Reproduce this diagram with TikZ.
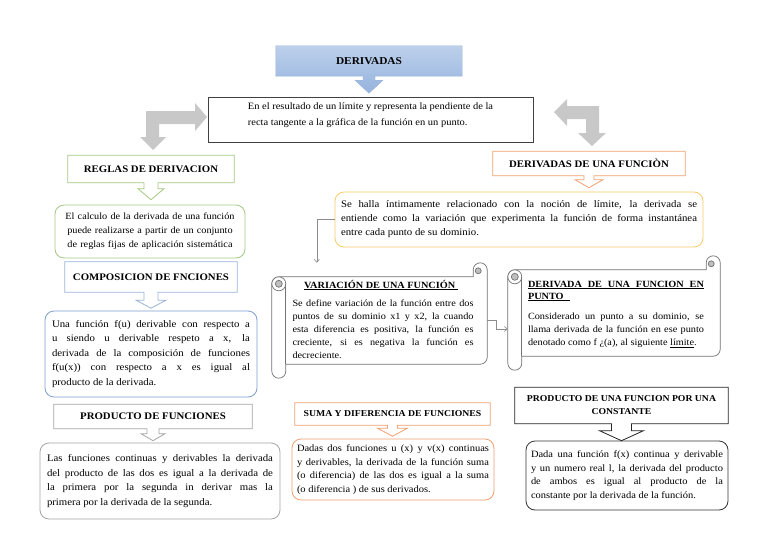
\documentclass[tikz,border=0pt]{standalone}
\usepackage{fontspec}
\setmainfont{Liberation Serif}[FakeStretch=1.08]
\usetikzlibrary{calc}
\usetikzlibrary{backgrounds}
\usetikzlibrary{arrows.meta}

\definecolor{azulclaro}{HTML}{BDD0EB}
\definecolor{azuloscuro}{HTML}{95B3DE}
\definecolor{azulborde}{HTML}{9AB4D9}
\definecolor{azulcaja}{HTML}{7F9FCF}
\definecolor{verde}{HTML}{A5C882}
\definecolor{naranja}{HTML}{F0A070}
\definecolor{amarillo}{HTML}{F9CB6B}
\definecolor{grisflecha}{HTML}{C8C8C8}

\tikzset{
  titulo/.style={font=\fontsize{10}{12}\selectfont\bfseries, inner sep=0pt, align=center},
  caja/.style={draw, rounded corners=9pt, inner sep=0pt, align=justify, line width=0.8pt,
    font=\fontsize{10}{14.5}\selectfont},
  conector/.style={draw=black!45, line width=0.6pt, -{Straight Barb[length=3pt,width=5pt]}},
  rollo/.style={draw=black!55, line width=0.7pt, fill=white},
  flechagris/.style={fill=grisflecha},
}

% #1 node, #2 style, #3 half stem, #4 stem length, #5 half head, #6 head length
\newcommand{\flechacaja}[6]{%
  \begin{scope}[on background layer]
  \draw[#2] (#1.north west) -- (#1.north east) -- (#1.south east)
    -- ($(#1.south)+(#3,0)$) -- ++(0,#4) -- ++({#5-#3},0)
    -- ($(#1.south)+(0,{#4+#6})$) -- ($(#1.south)+({-#5},#4)$)
    -- ++({#5-#3},0) -- ($(#1.south)+({-#3},0)$) -- (#1.south west) -- cycle;
  \end{scope}}

% horizontal scroll round an empty node
\newcommand{\pergamino}[1]{%
  \draw[rollo] ($(#1.north west)+(0,21)$) arc[start angle=180, end angle=90, radius=7pt]
    -- ($(#1.north east)+(-14,14)$) -- ($(#1.north east)+(-14,7)$)
    arc[start angle=180, end angle=0, radius=7pt]
    -- ($(#1.south east)+(0,-21)$) arc[start angle=0, end angle=-90, radius=7pt]
    -- ($(#1.south west)+(14,-14)$) -- ($(#1.south west)+(14,-7)$)
    arc[start angle=0, end angle=-180, radius=7pt] -- cycle;
  \filldraw[rollo, fill=black!25] ($(#1.north east)+(-9,8)$) circle (3pt);
  \draw[rollo] ($(#1.north west)+(7,21)$) circle (7pt);
  \filldraw[rollo, fill=black!25] ($(#1.north west)+(7,21)$) circle (3.5pt);
  \draw[rollo] ($(#1.north west)+(14,21)$) -- ($(#1.south west)+(14,-14)$);}

\begin{document}
\begin{tikzpicture}[x=1pt, y=-1pt]
  \begin{scope}[on background layer]
    \fill[white] (0,0) rectangle (768,543);
  \end{scope}
  \useasboundingbox (0,0) rectangle (768,543);

  % titulo y definicion
  \node[titulo, font=\fontsize{10.5}{12}\selectfont\bfseries, minimum width=186pt, minimum height=30pt]
    (derivadas) at (369,61) {DERIVADAS};
  \flechacaja{derivadas}{draw=azulborde, top color=azulclaro, bottom color=azuloscuro}{6}{4}{14}{13}
  \node[caja, rounded corners=0pt, draw=black!75, align=left, font=\fontsize{9.7}{16}\selectfont,
    minimum width=325pt, minimum height=45pt] (definicion) at (370.5,119.5)
    {En el resultado de un límite y representa la pendiente de la\\
     recta tangente a la gráfica de la función en un punto.\\[-5pt]};

  % flechas grises
  \fill[flechagris] (207,117) -- (195,103) -- (195,111) -- (146,111) -- (146,137)
    -- (140,137) -- (153,150) -- (166,137) -- (159,137) -- (159,124) -- (195,124)
    -- (195,131) -- cycle;
  \fill[flechagris] (554,112) -- (567,99) -- (567,106) -- (599,106) -- (599,133)
    -- (606,133) -- (592,146) -- (578,133) -- (586,133) -- (586,119) -- (567,119)
    -- (567,126) -- cycle;

  % columna izquierda
  \node[titulo, minimum width=166pt, minimum height=27pt] (reglas) at (151,169) {REGLAS DE DERIVACION};
  \flechacaja{reglas}{draw=verde, line width=0.8pt}{7}{6}{13}{11}
  \node[caja, draw=verde, align=center, font=\fontsize{9.5}{14}\selectfont, text width=184pt,
    minimum width=190pt, minimum height=53pt] (reglastxt) at (150,231.5)
    {El calculo de la derivada de una función\\puede realizarse a partir de un conjunto\\
     de reglas fijas de aplicación sistemática};

  \node[titulo, minimum width=172pt, minimum height=30pt] (composicion) at (151,277) {COMPOSICION DE FNCIONES};
  \flechacaja{composicion}{draw=azulborde, line width=0.8pt}{7}{8}{15}{8}
  \node[caja, draw=azulcaja, text width=198pt, minimum width=212pt, minimum height=86pt]
    (comptxt) at (151,354)
    {Una función f(u) derivable con respecto a\linebreak u siendo u derivable respeto a x, la\linebreak
     derivada de la composición de funciones\linebreak f(u(x)) con respecto a x es igual al\linebreak
     producto de la derivada.};

  \node[titulo, minimum width=198pt, minimum height=24pt] (prodfun) at (153,416.5) {PRODUCTO DE FUNCIONES};
  \flechacaja{prodfun}{draw=black!35, line width=0.8pt}{6}{5}{12}{7}
  \node[caja, draw=black!35, text width=226pt, minimum width=240pt, minimum height=76pt]
    (prodfuntxt) at (160,481)
    {Las funciones continuas y derivables la derivada\linebreak del producto de las dos es igual a la derivada de\linebreak
     la primera por la segunda in derivar mas la\linebreak primera por la derivada de la segunda.};

  % columna derecha
  \node[titulo, minimum width=192pt, minimum height=24pt] (derfun) at (589,163.5) {DERIVADAS DE UNA FUNCIÒN};
  \flechacaja{derfun}{draw=naranja, line width=0.8pt}{5}{4}{14}{8}
  \node[caja, draw=amarillo, font=\fontsize{10}{14}\selectfont, text width=356pt,
    minimum width=368pt, minimum height=55pt] (derfuntxt) at (519,219.5)
    {Se halla íntimamente relacionado con la noción de límite, la derivada se\linebreak
     entiende como la variación que experimenta la función de forma instantánea\linebreak
     entre cada punto de su dominio.};

  \node[minimum width=215pt, minimum height=115pt, inner sep=0pt] (variacion) at (379.5,320.5) {};
  \pergamino{variacion}
  \node[titulo, font=\fontsize{9.5}{12}\selectfont\bfseries] (variaciontit) at (381,285)
    {\underline{VARIACIÓN DE UNA FUNCIÓN\ }};
  \node[caja, draw=none, font=\fontsize{9.5}{13}\selectfont, text width=181pt] (variaciontxt) at (383,329)
    {Se define variación de la función entre dos\linebreak puntos de su dominio x1 y x2, la cuando\linebreak
     esta diferencia es positiva, la función es\linebreak creciente, si es negativa la función es\linebreak
     decreciente.};

  \node[minimum width=212pt, minimum height=114pt, inner sep=0pt] (derivada) at (614,313) {};
  \pergamino{derivada}
  \node[titulo, font=\fontsize{9.5}{12}\selectfont\bfseries, align=left, text width=176pt]
    (derivadatit) at (616,291)
    {\underline{\makebox[176pt]{DERIVADA\hfill DE\hfill UNA\hfill FUNCION\hfill EN}}\\\underline{PUNTO\ \ }};
  \node[caja, draw=none, font=\fontsize{9.5}{13}\selectfont, text width=176pt] (derivadatxt) at (616,330)
    {Considerado un punto a su dominio, se\linebreak llama derivada de la función en ese punto\linebreak
     denotado como f ¿(a), al siguiente \underline{límite}.};

  \draw[conector] (derfuntxt.west) -| ($(variacion.north west)+(45,0)$);
  \draw[conector] (variacion.east) -- ++(9,0) |- ($(derivada.west)+(0,16)$);

  % fila inferior
  \node[titulo, font=\fontsize{9}{11}\selectfont\bfseries, minimum width=195pt, minimum height=22pt]
    (suma) at (392.5,414) {SUMA Y DIFERENCIA DE FUNCIONES};
  \flechacaja{suma}{draw=naranja, line width=0.8pt}{5}{3}{15}{8}
  \node[caja, draw=naranja, font=\fontsize{9.7}{13.5}\selectfont, text width=192pt,
    minimum width=202pt, minimum height=61pt] (sumatxt) at (393,469.5)
    {Dadas dos funciones u (x) y v(x) continuas\linebreak y derivables, la derivada de la función suma\linebreak
     (o diferencia) de las dos es igual a la suma\linebreak (o diferencia ) de sus derivados.};

  \node[titulo, font=\fontsize{9}{13}\selectfont\bfseries, minimum width=213pt, minimum height=36pt]
    (prodcte) at (621.5,405.5) {PRODUCTO DE UNA FUNCION POR UNA\\CONSTANTE};
  \flechacaja{prodcte}{draw=black!85, line width=0.8pt}{10}{7}{22}{10}
  \node[caja, draw=black!80, font=\fontsize{9.7}{13.5}\selectfont, text width=192pt,
    minimum width=202pt, minimum height=69pt] (prodctetxt) at (627,475.5)
    {Dada una función f(x) continua y derivable\linebreak y un numero real l, la derivada del producto\linebreak
     de ambos es igual al producto de la\linebreak constante por la derivada de la función.};
\end{tikzpicture}
\end{document}
